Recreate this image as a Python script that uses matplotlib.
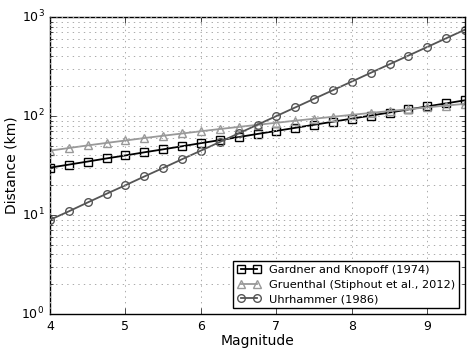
import numpy as np
import matplotlib
matplotlib.use('Agg')
from matplotlib import pyplot as plt

magnitude = [4.0, 4.25, 4.5, 4.75, 5.0, 5.25, 5.5, 5.75, 6.0, 6.25, 6.5, 6.75,
             7.0, 7.25, 7.5, 7.75, 8.0, 8.25, 8.5, 8.75, 9.0, 9.25, 9.5]
gardner_knopoff = [30.1, 32.3, 34.7, 37.3, 40.0, 43.0, 46.1, 49.5, 53.2, 57.1, 61.3, 65.9,
                   70.7, 76.0, 81.6, 87.6, 94.1, 101.0, 108.5, 116.5, 125.1, 134.3, 144.2]
gruenthal = [44.7, 47.5, 50.5, 53.5, 56.6, 59.9, 63.2, 66.6, 70.2, 73.9, 77.6, 81.5,
             85.5, 89.7, 93.9, 98.3, 102.8, 107.5, 112.3, 117.2, 122.3, 127.5, 132.8]
uhrhammer = [8.95, 10.9, 13.4, 16.4, 20.0, 24.5, 29.9, 36.6, 44.7, 54.6, 66.8, 81.7,
             99.9, 122.1, 149.3, 182.5, 223.2, 272.9, 333.6, 407.9, 498.7, 609.7, 745.4]
labels = ['Gardner and Knopoff (1974)', 'Gruenthal (Stiphout et al., 2012)', 'Uhrhammer (1986)']

plt.style.use('classic')
plt.rcParams['font.family'] = ['DejaVu Sans']
fig = plt.figure(figsize=[4.74, 3.55], dpi=100, facecolor='white')
ax = fig.add_axes([0.1055, 0.1155, 0.8755, 0.8365])

ax.plot(magnitude, gardner_knopoff, color='black', marker='s', mfc='none', mec='black',
        ms=5.5, mew=1.0, lw=1.3, label=labels[0])
ax.plot(magnitude, gruenthal, color='#999999', marker='^', mfc='none', mec='#999999',
        ms=5.5, mew=1.0, lw=1.3, label=labels[1])
ax.plot(magnitude, uhrhammer, color='#555555', marker='o', mfc='none', mec='#555555',
        ms=5.5, mew=1.0, lw=1.3, label=labels[2])

ax.set_yscale('log')
ax.set_xlim(4, 9.5)
ax.set_ylim(1, 1000)
ax.set_xticks([4, 5, 6, 7, 8, 9])
ax.grid(True, which='major', color='#aaaaaa', linestyle=':', lw=0.7)
ax.grid(True, which='minor', axis='y', color='#aaaaaa', linestyle=':', lw=0.7)
ax.tick_params(labelsize=9)
ax.set_xlabel('Magnitude', fontsize=10, labelpad=1)
ax.set_ylabel('Distance (km)', fontsize=10, labelpad=2)

ax.legend(loc='lower right', numpoints=2, fontsize=8.2, frameon=True, fancybox=False,
          labelspacing=0.4, borderpad=0.35, handlelength=2.0, handletextpad=0.8)

fig.savefig('out.png', dpi=100, facecolor='white')
